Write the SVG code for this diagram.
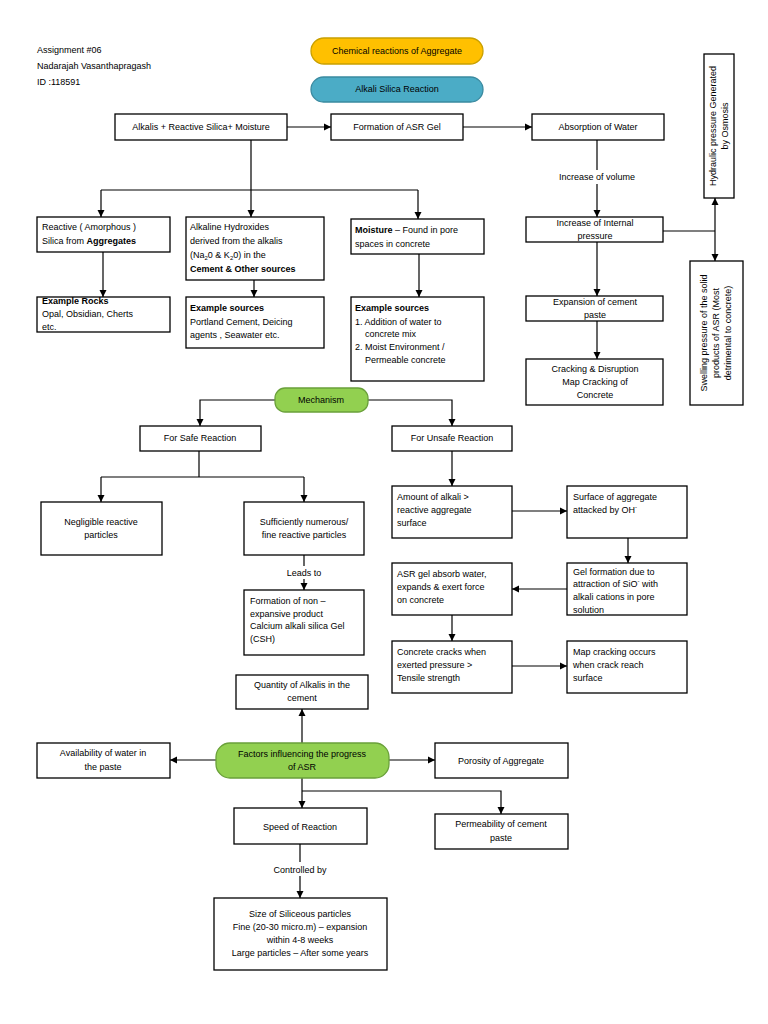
<svg xmlns="http://www.w3.org/2000/svg" width="768" height="1024" viewBox="0 0 768 1024">
<defs>
<marker id="a" markerWidth="8" markerHeight="8" refX="7" refY="4" orient="auto" markerUnits="userSpaceOnUse"><path d="M0,0.5 L7,4 L0,7.5 Z" fill="#000"/></marker>
<style>
text{font-family:"Liberation Sans",Arial,sans-serif;font-size:9px;fill:#000}
.c{text-anchor:middle}
.b{font-weight:bold}
rect{fill:#fff;stroke:#000;stroke-width:1.3}
.l{fill:none;stroke:#000;stroke-width:1.2}
.m{marker-end:url(#a)}
</style>
</defs>
<rect x="0" y="0" width="768" height="1024" style="stroke:none"/>
<g id="header"><text x="37" y="53">Assignment #06</text><text x="37" y="53" dy="16">Nadarajah Vasanthapragash</text><text x="37" y="85">ID :118591</text></g>

<g id="connectors">
<path class="l m" d="M287,127 H331"/>
<path class="l m" d="M463,127 H532"/>
<path class="l" d="M251,140 V190 M101,190 H418"/>
<path class="l m" d="M251,190 V217"/>
<path class="l m" d="M101,190 V217"/>
<path class="l m" d="M418,190 V219"/>
<path class="l m" d="M103,252 V297"/>
<path class="l m" d="M254,280 V297"/>
<path class="l m" d="M419,254 V297"/>
<path class="l" d="M597,140 V170"/>
<path class="l m" d="M597,184 V217"/>
<path class="l m" d="M597,242 V296"/>
<path class="l m" d="M597,321 V359"/>
<path class="l" d="M663,231 H715"/>
<path class="l m" d="M715,231 V198"/>
<path class="l m" d="M715,231 V261"/>
<path class="l m" d="M275,400 H200 V426"/>
<path class="l m" d="M368,400 H452 V426"/>
<path class="l" d="M199,451 V477 M101,477 H304"/>
<path class="l m" d="M101,477 V502"/>
<path class="l m" d="M304,477 V502"/>
<path class="l" d="M304,555 V566"/>
<path class="l m" d="M304,579 V590"/>
<path class="l m" d="M452,451 V486"/>
<path class="l m" d="M512,511 H567"/>
<path class="l m" d="M628,538 V563"/>
<path class="l m" d="M567,589 H512"/>
<path class="l m" d="M452,615 V641"/>
<path class="l m" d="M512,666 H567"/>
<path class="l m" d="M302,743 V709"/>
<path class="l m" d="M216,760 H170"/>
<path class="l m" d="M389,760 H435"/>
<path class="l m" d="M302,778 V808"/>
<path class="l m" d="M302,791 H501 V814"/>
<path class="l" d="M300,844 V862"/>
<path class="l m" d="M300,876 V898"/>
</g>

<g id="chem"><rect x="311" y="38" width="172" height="26" rx="13" style="fill:#ffc000;stroke:#c9a000"/><text class="c" x="397" y="54">Chemical reactions of Aggregate</text></g>
<g id="asr"><rect x="311" y="77" width="172" height="25" rx="12.5" style="fill:#4bacc6;stroke:#3a8aa0"/><text class="c" x="397" y="92">Alkali Silica Reaction</text></g>
<g id="n1"><rect x="115" y="114" width="172" height="26"/><text class="c" x="201" y="130">Alkalis + Reactive Silica+ Moisture</text></g>
<g id="n2"><rect x="331" y="114" width="132" height="26"/><text class="c" x="397" y="130">Formation of ASR Gel</text></g>
<g id="n3"><rect x="532" y="114" width="132" height="26"/><text class="c" x="598" y="130">Absorption of Water</text></g>
<text class="c" x="597" y="180">Increase of volume</text>
<g id="n4"><rect x="526" y="217" width="137" height="25"/><text class="c" x="595" y="226">Increase of Internal</text><text class="c" x="595" y="239">pressure</text></g>
<g id="n5"><rect x="526" y="296" width="137" height="25"/><text class="c" x="595" y="305">Expansion of cement</text><text class="c" x="595" y="318">paste</text></g>
<g id="n6"><rect x="526" y="359" width="137" height="46"/><text class="c" x="595" y="372">Cracking &amp; Disruption</text><text class="c" x="595" y="385">Map Cracking of</text><text class="c" x="595" y="398">Concrete</text></g>
<g id="n7"><rect x="704" y="54" width="30" height="144"/><text class="c" transform="translate(719,126) rotate(-90)" dy="-3">Hydraulic pressure Generated</text><text class="c" transform="translate(719,126) rotate(-90)" dy="9">by Osmosis</text></g>
<g id="n8"><rect x="690" y="261" width="53" height="144"/><text class="c" transform="translate(716,333) rotate(-90)" dy="-9">Swelling pressure of the solid</text><text class="c" transform="translate(716,333) rotate(-90)" dy="3">products of ASR (Most</text><text class="c" transform="translate(716,333) rotate(-90)" dy="15">detrimental to concrete)</text></g>

<g id="n9"><rect x="37" y="217" width="133" height="35"/><text x="42" y="230">Reactive ( Amorphous )</text><text x="42" y="244">Silica from <tspan class="b">Aggregates</tspan></text></g>
<g id="n10"><rect x="186" y="217" width="138" height="63"/><text x="190" y="230">Alkaline Hydroxides</text><text x="190" y="244">derived from the alkalis</text><text x="190" y="258">(Na<tspan font-size="6" dy="2">2</tspan><tspan dy="-2">0 &amp; K</tspan><tspan font-size="6" dy="2">2</tspan><tspan dy="-2">0) in the</tspan></text><text class="b" x="190" y="272">Cement &amp; Other sources</text></g>
<g id="n11"><rect x="351" y="219" width="133" height="35"/><text x="355" y="233"><tspan class="b">Moisture</tspan> – Found in pore</text><text x="355" y="247">spaces in concrete</text></g>
<g id="n12"><rect x="37" y="297" width="133" height="35"/><text class="b" x="42" y="304">Example Rocks</text><text x="42" y="317">Opal, Obsidian, Cherts</text><text x="42" y="330">etc.</text></g>
<g id="n13"><rect x="186" y="297" width="138" height="51"/><text class="b" x="190" y="311">Example sources</text><text x="190" y="325">Portland Cement, Deicing</text><text x="190" y="338">agents , Seawater etc.</text></g>
<g id="n14"><rect x="351" y="297" width="133" height="84"/><text class="b" x="355" y="311">Example sources</text><text x="355" y="325">1. Addition of water to</text><text x="365" y="337">concrete mix</text><text x="355" y="350">2. Moist Environment /</text><text x="365" y="363">Permeable concrete</text></g>

<g id="mech"><rect x="275" y="388" width="93" height="24" rx="10" style="fill:#92d050;stroke:#6aa03a"/><text class="c" x="321" y="403">Mechanism</text></g>
<g id="safe"><rect x="140" y="426" width="121" height="25"/><text class="c" x="200" y="441">For Safe Reaction</text></g>
<g id="unsafe"><rect x="392" y="426" width="120" height="25"/><text class="c" x="452" y="441">For Unsafe Reaction</text></g>
<g id="negl"><rect x="41" y="502" width="121" height="53"/><text class="c" x="101" y="525">Negligible reactive</text><text class="c" x="101" y="538">particles</text></g>
<g id="suff"><rect x="244" y="502" width="120" height="53"/><text class="c" x="304" y="525">Sufficiently numerous/</text><text class="c" x="304" y="538">fine reactive particles</text></g>
<text class="c" x="304" y="576">Leads to</text>
<g id="csh"><rect x="244" y="590" width="120" height="65"/><text x="250" y="604">Formation of non –</text><text x="250" y="617">expansive product</text><text x="250" y="629">Calcium alkali silica Gel</text><text x="250" y="642">(CSH)</text></g>
<g id="amt"><rect x="392" y="486" width="120" height="52"/><text x="397" y="500">Amount of alkali &gt;</text><text x="397" y="513">reactive aggregate</text><text x="397" y="526">surface</text></g>
<g id="surf"><rect x="567" y="486" width="120" height="52"/><text x="573" y="500">Surface of aggregate</text><text x="573" y="513">attacked by OH<tspan font-size="6" dy="-4">-</tspan></text></g>
<g id="gel"><rect x="567" y="563" width="120" height="52"/><text x="573" y="575">Gel formation due to</text><text x="573" y="587">attraction of SiO<tspan font-size="6" dy="-4">-</tspan><tspan dy="4"> with</tspan></text><text x="573" y="600">alkali cations in pore</text><text x="573" y="613">solution</text></g>
<g id="asrgel"><rect x="392" y="563" width="120" height="52"/><text x="397" y="577">ASR gel absorb water,</text><text x="397" y="590">expands &amp; exert force</text><text x="397" y="603">on concrete</text></g>
<g id="crk"><rect x="392" y="641" width="120" height="52"/><text x="397" y="655">Concrete cracks when</text><text x="397" y="668">exerted pressure &gt;</text><text x="397" y="681">Tensile strength</text></g>
<g id="mapc"><rect x="567" y="641" width="120" height="52"/><text x="573" y="655">Map cracking occurs</text><text x="573" y="668">when crack reach</text><text x="573" y="681">surface</text></g>

<g id="qty"><rect x="236" y="675" width="132" height="34"/><text class="c" x="302" y="688">Quantity of Alkalis in the</text><text class="c" x="302" y="701">cement</text></g>
<g id="fac"><rect x="216" y="743" width="173" height="35" rx="14" style="fill:#92d050;stroke:#6aa03a"/><text class="c" x="302" y="757">Factors influencing the progress</text><text class="c" x="302" y="770">of ASR</text></g>
<g id="avail"><rect x="37" y="743" width="133" height="35"/><text class="c" x="103" y="756">Availability of water in</text><text class="c" x="103" y="770">the paste</text></g>
<g id="poro"><rect x="435" y="743" width="133" height="35"/><text class="c" x="501" y="764">Porosity of Aggregate</text></g>
<g id="speed"><rect x="234" y="808" width="133" height="36"/><text class="c" x="300" y="830">Speed of Reaction</text></g>
<g id="perm"><rect x="435" y="814" width="133" height="35"/><text class="c" x="501" y="827">Permeability of cement</text><text class="c" x="501" y="841">paste</text></g>
<text class="c" x="300" y="873">Controlled by</text>
<g id="size"><rect x="214" y="898" width="173" height="72"/><text class="c" x="300" y="917">Size of Siliceous particles</text><text class="c" x="300" y="930">Fine (20-30 micro.m) – expansion</text><text class="c" x="300" y="943">within 4-8 weeks</text><text class="c" x="300" y="956">Large particles – After some years</text></g>
</svg>
